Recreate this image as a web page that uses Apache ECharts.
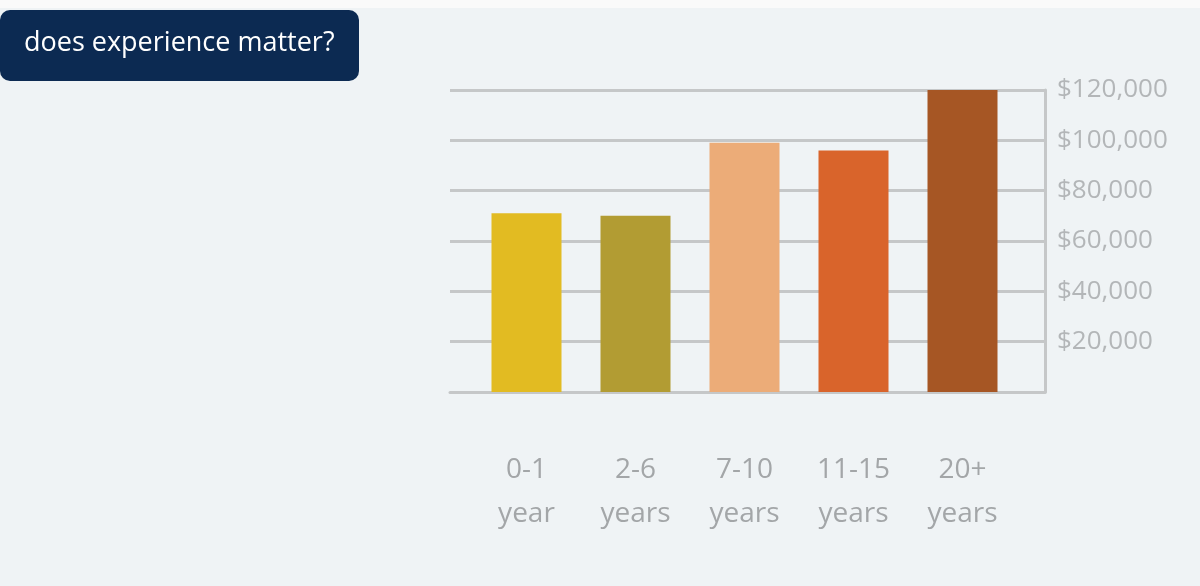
<!DOCTYPE html><html><head><meta charset="utf-8">
<script src="https://cdn.jsdelivr.net/npm/echarts@6/dist/echarts.min.js"></script>
<style>html,body{margin:0;padding:0;background:#fff}#c{width:1200px;height:586px}</style></head><body><div id="c"></div>
<script>
const categories=['0-1\nyear','2-6\nyears','7-10\nyears','11-15\nyears','20+\nyears'];
const values=[71000,70000,99000,96000,120000];
const colors=['#e2bb22','#b29c33','#ecac78','#d9642b','#a65624'];
const chart=echarts.init(document.getElementById('c'));
chart.setOption({
 backgroundColor:'#eff3f5',
 graphic:[
  {type:'rect',shape:{x:0,y:0,width:1200,height:8},style:{fill:'#fafafa'},silent:true},
  {type:'rect',shape:{x:0,y:10,width:359,height:71,r:10},style:{fill:'#0c2a52'}},
  {type:'text',left:24,top:30,style:{text:'does experience matter?',fill:'#fff',font:'27px "Open Sans"'}}
 ],
 grid:[{left:450,right:155,top:90,bottom:194},{left:472,right:183,top:90,bottom:194}],
 xAxis:[
  {type:'category',gridIndex:0,data:[''],axisTick:{show:false},axisLabel:{show:false},
   axisLine:{lineStyle:{color:'#c5c7c8',width:3}}},
  {type:'category',gridIndex:1,data:categories,axisTick:{show:false},axisLine:{show:false},
   axisLabel:{color:'#a3a6a8',fontSize:28,fontFamily:'Open Sans',lineHeight:44,margin:56}}
 ],
 yAxis:[
  {type:'value',gridIndex:0,position:'right',min:0,max:120000,interval:20000,
   axisLine:{show:true,lineStyle:{color:'#c5c7c8',width:3}},
   splitLine:{lineStyle:{color:'#c5c7c8',width:3}},
   axisLabel:{color:'#b3b6b8',fontSize:26,fontFamily:'Open Sans',margin:12,
    formatter:v=>v===0?'':'$'+v.toLocaleString('en-US')}},
  {type:'value',gridIndex:1,min:0,max:120000,interval:20000,show:false}
 ],
 series:[{type:'bar',xAxisIndex:1,yAxisIndex:1,barWidth:70,data:values.map((v,i)=>({value:v,itemStyle:{color:colors[i]}}))}]
});
</script></body></html>
